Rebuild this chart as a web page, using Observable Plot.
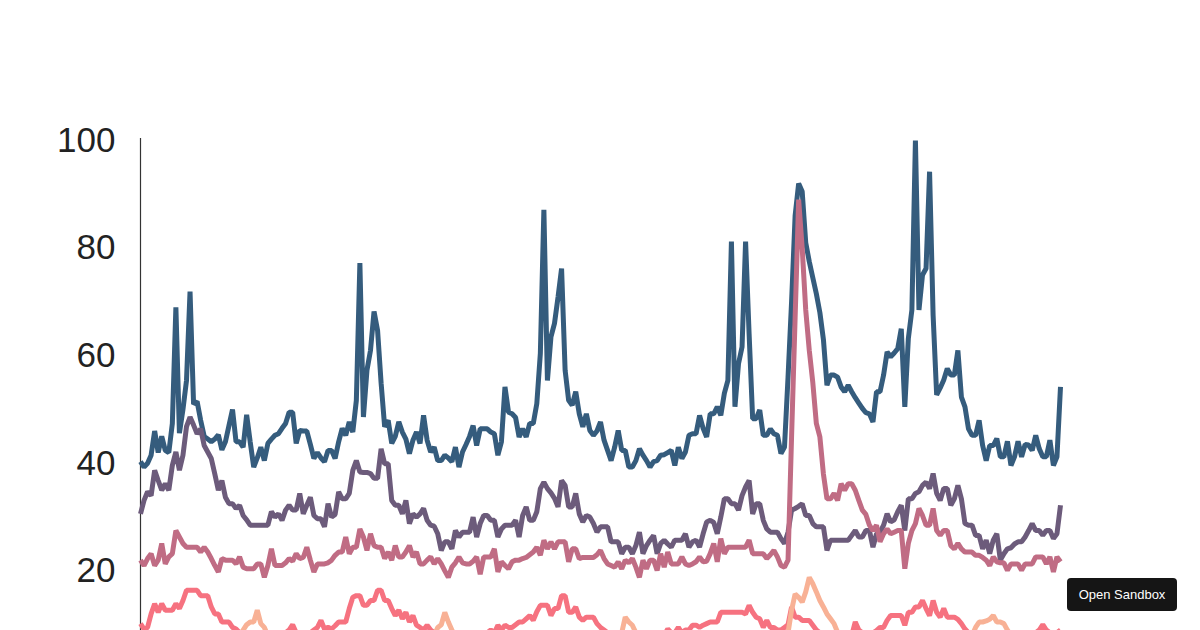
<!DOCTYPE html>
<html><head><meta charset="utf-8">
<script src="https://cdn.jsdelivr.net/npm/d3@7"></script>
<script src="https://cdn.jsdelivr.net/npm/@observablehq/plot@0.6"></script>
<style>
html,body{margin:0;padding:0;background:#fff;overflow:hidden;}
#chart{position:absolute;left:0;top:0;}
.sandbox{position:fixed;left:1067px;top:578px;width:110px;height:33px;background:#151515;color:#fff;border-radius:4px;font:13px "Liberation Sans",Arial,sans-serif;display:flex;align-items:center;justify-content:center;}
</style>
</head><body>
<div id="chart"></div>
<div class="sandbox">Open Sandbox</div>
<script>
const seriesNames = ["A", "B", "C", "D", "E"];
const seriesColors = ["#355c7d", "#6c5b7b", "#c06c84", "#f67280", "#f8b195"];
const yTicks = [20, 40, 60, 80, 100];

const blue = [
40.3,39.3,40,41.5,46,42,45,42.4,42,47.4,
69,45.6,50,55.4,71.9,51,51.5,48,45,44.5,
44,44.5,45.3,42.5,44,47,50,44,44,43,
49,44,39.3,41,43,40.5,43.7,44.5,45.2,45.5,
46.5,47.4,49.5,49.5,43.7,46.1,46,46,43.5,40.9,
42,41,40.3,42.4,42.4,40.9,44,46.5,45.2,47.7,
45.8,51.7,77.2,48.6,57.3,61,68.2,64.7,54.9,46.8,
48,43.7,45,47.7,45.8,44.5,41.8,44.3,45.8,43.7,
48.9,44.3,42.1,43,40.5,40.5,41.5,41,40.3,43,
39.3,42.1,43.5,45,47,43.3,46.4,46.4,46.4,45.8,
45.5,41.5,44,54.2,49.5,49.2,48.5,44.9,46.4,44.9,
47.4,47.4,51.1,60.4,87.1,55.4,63.5,66,70.9,76.2,
57.3,51.7,50.8,53.3,49.2,46.8,49.2,46.1,45.2,46,
47.7,44.3,42.4,40.5,43,46.1,42.4,42.4,39.3,39.3,
40.5,42.7,41.5,40.5,39.3,40.3,40.5,41.5,41.6,42,
42.4,39.6,43,40.9,42.1,45.2,45.5,45.5,48.9,46.5,
44.9,49.2,49.2,50.5,48.9,53,55.4,81.2,50.5,58.5,
61.6,81.2,64,48.3,48.3,49.9,45.2,45.2,46.4,45.5,
45.2,41.8,43,56,70,86,92,90.5,81,77.5,
74.5,71.5,68,63,54.5,56.4,56.4,56,54.2,53.3,
54.5,53.3,52.2,51.2,50.2,49.4,49.2,47.7,53.3,53.3,
56.4,60.7,59.8,60.5,61.3,65,50.5,63.2,68.5,100,
68.5,75,76.2,94.2,67.5,52.7,54,55.5,57.6,56.4,
56.4,61,52.3,50.5,46.4,45.2,45.2,48,43.3,40.5,
43.3,43.3,44.6,41.2,41.2,44.1,39.6,41.2,44.1,41.2,
43.5,43.4,42.4,45.2,42.7,41.2,41.2,44.3,39.6,41.2,
54.2
];

const purple = [
30.6,33.1,34.7,34,38.7,36.8,35,36.2,35,39.6,
42.1,38.7,41.5,46.8,48.6,47.1,45.5,46.4,43.3,42.1,
40.9,38,35,36.8,33.7,32.5,32.5,31.6,32.2,30.3,
29.5,28.5,28.5,28.5,28.5,28.5,28.5,31,30,30.6,
29.4,31.3,32.2,31.3,31.3,34.4,30.6,32.2,33.7,30.3,
29.7,29.7,28.2,32.5,30,30.5,34.7,33.4,33.4,34.4,
38.7,40.5,38.4,38.3,38.3,38.1,37.2,37.2,42.7,39.9,
39.9,33.1,32.2,32.2,30.6,33.1,28.8,30.6,30,30.6,
31.6,29.4,28.5,28.3,26.9,23.8,25.4,25.4,24.1,27.5,
26.3,27.2,27.2,27.2,30,26.3,28.8,30.3,30.3,29.4,
29.4,26.3,27.8,28.5,28.5,28.5,29.4,26.3,30.3,31.9,
29.4,29.4,31,35.3,36.5,35.3,34.5,33.5,31.9,36.8,
35.9,31.9,31.9,34.4,30.6,29.1,30.3,30,28.8,27.2,
28.2,28.2,28.2,25.4,25.4,25.4,23.2,24.4,24.4,23.2,
24.7,27.2,23.2,24.7,25.7,26.6,23.2,25.1,25.7,25,
24.4,25.7,25.7,25.7,26.9,24.4,25.4,25.7,24.4,26.9,
29.1,29.4,29,26.9,30,33.4,33.4,32.5,32.5,31.3,
34,35.6,36.8,30.6,32.5,32.5,29.4,27.8,27.2,27.2,
27.2,26,25.1,27.2,31.3,31.6,32,32.5,30.3,30.3,
28.8,28.2,28.2,28.2,23.8,25.7,25.7,25.7,25.7,25.7,
25.7,26.6,27.5,26.3,26.3,27.5,27.5,24.4,26.9,27.2,
28.5,30.6,29.1,29.5,31,32.2,27.5,33.4,33.4,34.4,
34.7,35.9,36.5,35.3,38.1,34.4,33.1,35.3,35.3,32.2,
33.4,35.9,33.4,28.8,28.5,28.5,26.6,26.6,24.1,25.7,
23.2,25.7,26.9,22,23.2,24.1,24.3,25,25.4,25.4,
26.3,27.5,28.8,27.5,27.5,26.6,27.5,27.5,26,26.9,
32.2
];

const pink = [
22,21,22.3,23.2,21,22,25.1,21.3,22.6,23.2,
27.5,26.3,25.1,24.4,24.4,24.4,24.4,23.5,24.4,23.5,
22.3,21,19.8,22.3,22,22,22,21.3,22.6,20.7,
20.4,20.4,20.4,21.3,21.3,18.8,21,24.1,21,21,
21,21.5,22.3,21.8,23.2,22.3,22.5,24.4,22,19.8,
21.3,21.3,21.3,21.5,22,22.9,23.5,23.5,26.3,23.2,
24.4,24.4,27.8,26.3,23.8,26.9,24.7,24.4,24.4,22.3,
23.5,22,24.7,22.6,22.6,23.5,24.7,22.6,23.5,21.3,
21.3,22,22.6,21.3,22.3,21.3,20,18.8,20.7,21.5,
22.6,21.5,21.3,21.3,21.8,22.6,19.4,22.6,22.6,22.6,
24.1,19.8,21.7,21,20.4,21.7,22,22,22.3,22.5,
23,23.5,24.4,22.9,25.7,24.1,25.4,24.1,25.4,25.4,
25.4,21.7,24.1,24.1,22.3,22.5,22.5,22.5,22.5,23,
23.8,22.3,21.3,21,20.7,21.7,20.4,22,21.5,22.3,
20.7,18.8,22,20.4,22,22,20.1,23.2,20.7,23.5,
21.3,21.3,21.3,22.6,21.3,21,21.3,21.7,22.6,21.7,
21.8,23.2,25.1,21.7,26,23.2,24.4,24.4,24.4,24.4,
24.4,24.4,25.7,23.2,23.2,23.2,23.2,22.3,23,23.8,
22.6,21,20.7,22,45,67,89,80,68.5,61,
55,47.4,44.9,38,33.4,33.4,34.4,33.1,36.2,35,
36.2,36.2,35,33.1,31.3,30.5,28.5,27.5,28.5,25.4,
26.9,27.8,26.9,27.2,27.5,27.5,20.4,25.1,27.5,28.8,
31.6,30.3,28.5,28.5,31.6,27.5,26.6,27.5,27.5,24.7,
24.1,25.1,24.1,23.5,23.5,23.5,22.9,22.9,22.5,22,
21,22.6,21.7,21.5,21.5,20.1,21.3,21.3,21.3,20.1,
21.3,21.3,21.3,22.6,22.6,22.6,21.3,22.6,19.8,22.6,
21.7
];

const salmon = [
10.2,9.2,9.5,12,13.9,12.3,13.9,12.7,12.7,12.7,
13.9,13,14.5,16.4,16.4,16.4,16.4,15.4,15.4,15.4,
13.3,12,12,10.5,10.5,10.5,9.5,9.2,8.5,8,
7.5,7.5,7,7.5,8,7.5,8,7.5,8,8.5,
8,8.5,9,10,8.5,8,8.5,8,8.5,9,
9.5,10.8,9.2,9.5,9.2,9.8,10.5,10.5,10.5,13,
15.1,15.4,15.4,13.6,13.6,14.5,14.5,16.4,16.4,14.5,
14.5,13,11.7,12.7,11.1,12.3,10.5,11.7,9.9,9.5,
9,9.9,9,8.5,8,8.5,8,7.5,8,8,
8.5,8,8,8.5,8,8.5,8,8,8.5,9,
8.5,9.9,9,9.9,9.5,9.5,10,10.5,10.5,11.1,
11.7,10.8,12.4,13.6,13.6,13.6,11.7,13,13,15.4,
15.4,12.3,12.3,13.3,11.4,10.8,11.4,11.4,11.4,10.2,
9.5,9,8.5,8,8.5,8,8.5,8,7.5,8,
8,7.5,8,8,7.5,8,8,8.5,8,9.2,
8.5,8.5,9.5,8.5,9,9,9.9,9.9,9.5,9.9,
10.2,10.5,10.5,10.5,12.3,12.3,12.3,12.3,12.3,12.3,
12.3,12,13.6,12.3,11.4,11.1,9.5,10.8,9.5,9.5,
9,9,9.5,10,13.3,11.4,11.4,10.8,10.8,10.8,
9.9,9,8.5,8,8,7.5,8,7.5,8,8,
8.5,8,10.5,9,8.5,8,8.5,8.5,8.9,9.5,
9.5,10.8,11.7,11.7,11.7,11.7,9.9,12.3,12.3,13.3,
13.3,14.5,13,11.7,14.5,12.3,11.4,13,11.4,11.4,
11.4,11,10.2,9.2,8.5,8,8.5,8,7.5,8,
7.5,8,8,7.5,8,8,7.5,8,8,8.5,
8,8.5,8,8.5,9,10,9,8.5,8.5,8.5,
9
];

const peach = [
5,4.5,5,4,5,4.5,5,5.5,5,4.5,
5,5.5,6,5.5,6,5.5,5,5.5,6,5.5,
6,6.5,6,7,6.5,7,7.5,7,8,9,
10,10.5,10.5,12.7,10.2,9.5,8,7,6.5,6,
5.5,6,5.5,5,5.5,5,5.5,5,6,5.5,
5,5.5,5,4.5,5,5.5,5,5.5,5,6,
5.5,6,5.5,6,5.5,5,5.5,5,6,6.5,
6,6.5,7,6.5,7,6.5,7,7.5,7,7.5,
7,8,7.5,8,9.5,10,12.3,10.5,9,8,
7,6.5,6,5.5,5,5.5,5,4.5,5,5.5,
5,5.5,5,5.5,5,4.5,5,5.5,5,5.5,
5,5.5,6,5.5,6,5.5,5,5.5,6,6.5,
6,6.5,7,6.5,7,7.5,7,7.5,7,8,
7.5,8,7.5,8,8.5,8,8.5,11.4,10.5,9.9,
8.5,8,7,6.5,6,5.5,6,5.5,5,5.5,
5,5.5,5,5.5,5,4.5,5,5.5,5,5,
5.5,5,5.5,5,5.5,6,5.5,6,5.5,6,
6.5,6,6.5,6,6.5,7,6.5,7,7.5,7,
7.5,7,7.5,8.5,12.7,15.7,15.1,14.2,16.1,18.8,
17.6,16.1,14.5,13.3,12,11.1,10.2,8.6,7.5,7,
7,6.5,6,6.5,6,5.5,6,5.5,5,5.5,
5,5.5,5,4.5,5,5.5,5,5.5,5,5.5,
6,5.5,6,5.5,6,6.5,6,6.5,7,6.5,
7,7.5,7,7.5,8,8,9.5,10.5,10.5,10.7,
11,11.7,10.5,10.5,10.2,9,8,7.5,7,6.5,
6,6.5,6,5.5,6,5.5,5,5.5,5,5.5,
5
];

const allSeries = [blue, purple, pink, salmon, peach];
const rows = [];
allSeries.forEach((arr, k) => arr.forEach((v, i) => rows.push({series: seriesNames[k], week: i, value: v})));

const chart = Plot.plot({
  width: 1200,
  height: 720,
  marginTop: 140,
  marginBottom: 42,
  marginLeft: 140,
  marginRight: 140,
  style: {fontFamily: "'Liberation Sans', Arial, sans-serif", background: "#fff", overflow: "visible"},
  x: {domain: [0, blue.length - 1], axis: null},
  y: {domain: [0, 100], axis: null},
  color: {domain: seriesNames, range: seriesColors},
  marks: [
    Plot.ruleX([0], {stroke: "#333", strokeWidth: 1.2, insetTop: -2}),
    Plot.axisY(yTicks, {tickSize: 0, tickPadding: 25, fontSize: 35, fill: "#222", label: null}),
    Plot.lineY(rows, {x: "week", y: "value", z: "series", stroke: "series", strokeWidth: 5, strokeLinejoin: "miter", strokeLinecap: "butt"})
  ]
});
document.getElementById("chart").appendChild(chart);
</script>
</body></html>
